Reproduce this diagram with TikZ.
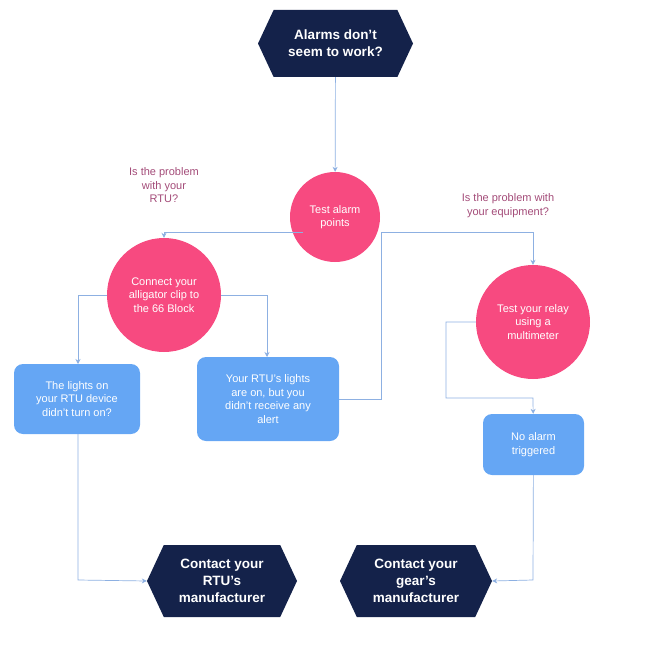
\documentclass[tikz,border=0pt]{standalone}
\usepackage{fontspec}
\setmainfont{Liberation Sans}
\usetikzlibrary{shapes.symbols,arrows.meta}
\definecolor{navy}{HTML}{14224A}
\definecolor{pink}{HTML}{F74A80}
\definecolor{blu}{HTML}{65A6F4}
\definecolor{lnk}{HTML}{8DB0E2}
\definecolor{lbl}{HTML}{A34B78}
\begin{document}
\begin{tikzpicture}[x=1pt,y=-1pt,
 hex/.style={signal,signal to=east and west,signal pointer angle=130,fill=navy,text=white,font=\fontsize{13.5}{17}\selectfont\bfseries,align=center,inner sep=0pt},
 circ/.style={circle,fill=pink,text=white,font=\fontsize{11}{13.5}\selectfont,align=center,inner sep=0pt},
 box/.style={rounded corners=9pt,fill=blu,text=white,font=\fontsize{11}{13.5}\selectfont,align=center,inner sep=0pt},
 lab/.style={text=lbl,font=\fontsize{11}{13.5}\selectfont,align=center},
 con/.style={draw=lnk,line width=0.7pt,-{Stealth[length=5pt,width=5pt]}}]
\useasboundingbox (0,0) rectangle (653,650);
\node[hex,minimum width=155,minimum height=67] (top) at (335.5,43.5) {Alarms don't\\seem to work?};
\node[circ,minimum size=90] (test) at (335,217) {Test alarm\\points};
\node[circ,minimum size=114] (conn) at (164,295) {Connect your\\alligator clip to\\the 66 Block};
\node[circ,minimum size=114] (relay) at (533,322) {Test your relay\\using a\\multimeter};
\node[box,minimum width=126,minimum height=70] (lights) at (77,399) {The lights on\\your RTU device\\didn't turn on?};
\node[box,minimum width=142,minimum height=84] (rtul) at (268,399) {Your RTU's lights\\are on, but you\\didn't receive any\\alert};
\node[box,minimum width=101,minimum height=61] (noal) at (533.5,444.5) {No alarm\\triggered};
\node[hex,minimum width=150,minimum height=72] (crtu) at (222,581) {Contact your\\RTU's\\manufacturer};
\node[hex,minimum width=152,minimum height=72] (cgear) at (416,581) {Contact your\\gear's\\manufacturer};
\node[lab] (l1) at (164,185.5) {Is the problem\\with your\\RTU?};
\node[lab] (l2) at (508,205.5) {Is the problem with\\your equipment?};
\coordinate (a1) at (164,232);
\draw[con] (top) -- (test);
\draw[con] (test.south west |- a1) -- (a1) -- (conn);
\draw[con] (rtul.east) -- (381,399) -- (381,232) -- (533,232) -- (relay);
\draw[con] (conn.west) -- (78,295) -- (78,364);
\draw[con] (conn.east) -- (267,295) -- (267,357);
\draw[con] (relay.west) -- (446,322) -- (446,398) -- (533,398) -- (noal);
\draw[con] (78,434) -- (78,580) -- (crtu.west);
\draw[con] (noal) -- (533,580) -- (cgear.east);
\end{tikzpicture}
\end{document}
